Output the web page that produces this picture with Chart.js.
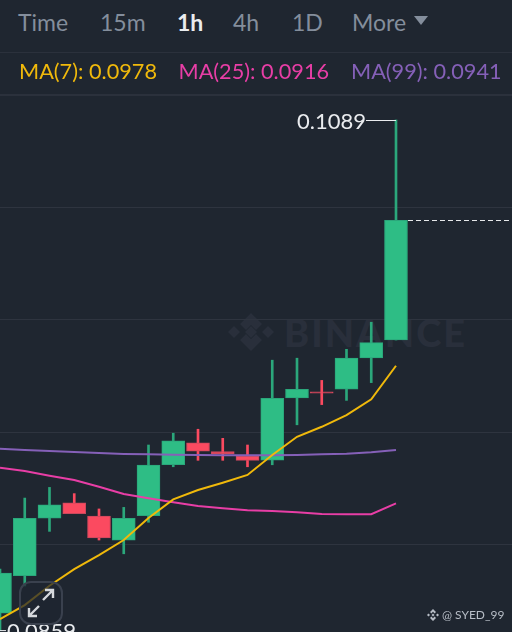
<!DOCTYPE html>
<html>
<head>
<meta charset="utf-8">
<script src="https://cdn.jsdelivr.net/npm/chart.js@4"></script>
<style>
html,body{margin:0;padding:0;background:#1f2630;width:512px;height:632px;overflow:hidden;font-family:Lato,sans-serif}
.abs{position:absolute;white-space:nowrap;line-height:1}
#wm{position:absolute;left:0;top:0;z-index:0}
canvas{position:absolute;left:0;top:0;z-index:1}
#head{position:absolute;left:0;top:0;width:512px;height:52px;background:#1f2630;z-index:2;border-bottom:1.5px solid #2b313c}
#rule{position:absolute;left:0;top:94px;width:512px;height:1.5px;background:#2b313c;z-index:2}
.tab{top:11px;font-size:23px;color:#848e9c;z-index:3}
.ma{top:61px;font-size:21.7px;z-index:3}
#tri{position:absolute;left:414px;top:16px;width:0;height:0;border-left:7px solid transparent;border-right:7px solid transparent;border-top:9px solid #848e9c;z-index:3}
#expand{position:absolute;left:19px;top:581px;z-index:3}
#foot{left:442px;top:609px;font-size:12px;color:#b7bdc6;z-index:3}
#footlogo{position:absolute;left:426px;top:608px;z-index:3}
</style>
</head>
<body>
<svg id="wm" width="512" height="632">
  <g fill="#292f3b">
    <path d="M251 313l11 11-6 6-5-5-5 5-6-6z"/>
    <path d="M234 326l6 6-6 6-6-6z"/>
    <path d="M268 326l6 6-6 6-6-6z"/>
    <path d="M251 326l6 6-6 6-6-6z"/>
    <path d="M251 351l11-11-6-6-5 5-5-5-6 6z"/>
  </g>
  <text x="284" y="347" font-family="Lato" font-weight="900" font-size="38" letter-spacing="2" fill="#292f3b">BINANCE</text>
</svg>
<canvas id="c" width="512" height="632" style="width:512px;height:632px"></canvas>
<div id="head"></div>
<div id="rule"></div>
<div class="abs tab" style="left:18px">Time</div>
<div class="abs tab" style="left:100px">15m</div>
<div class="abs tab" style="left:177px;color:#eaecef;font-weight:700">1h</div>
<div class="abs tab" style="left:233px">4h</div>
<div class="abs tab" style="left:292px">1D</div>
<div class="abs tab" style="left:352px">More</div>
<div id="tri"></div>
<div class="abs ma" style="left:19px;color:#f0b90b">MA(7): 0.0978</div>
<div class="abs ma" style="left:178.500px;color:#e83ea6">MA(25): 0.0916</div>
<div class="abs ma" style="left:351px;color:#8560b8">MA(99): 0.0941</div>
<svg id="expand" width="44" height="44">
  <rect x="1" y="1" width="42" height="42" rx="11" fill="rgba(30,37,48,0.72)" stroke="#3a414e" stroke-width="2"/>
  <g fill="none" stroke="#d5d8dc" stroke-width="2.4">
    <path d="M24 19l10-10M26 9h8v8"/>
    <path d="M20 25l-10 10M18 35h-8v-8"/>
  </g>
</svg>
<svg id="footlogo" width="14" height="14"><g fill="#b7bdc6"><path d="M7 1l3 3-1.400 1.400L7 3.800 5.400 5.400 4 4z"/><path d="M2.500 5.500l1.500 1.500-1.500 1.500L1 7z"/><path d="M11.500 5.500L13 7l-1.500 1.500L10 7z"/><path d="M7 5.500L8.500 7 7 8.500 5.500 7z"/><path d="M7 13l3-3-1.400-1.400L7 10.200 5.400 8.600 4 10z"/></g></svg>
<div class="abs" id="foot">@ SYED_99</div>
<script>
const candleIndex = [0,1,2,3,4,5,6,7,8,9,10,11,12,13,14,15,16];
const opens  = [0.08669,0.08837,0.09097,0.09166,0.09106,0.08997,0.09108,0.09337,0.09436,0.09396,0.09376,0.09358,0.09638,0.09666,0.09677,0.09818,0.09899];
const closes = [0.08849,0.09096,0.09156,0.09117,0.09007,0.09096,0.09336,0.09445,0.09398,0.09386,0.09357,0.09636,0.09677,0.09659,0.09817,0.09887,0.10438];
const highs  = [0.08867,0.09187,0.09235,0.09207,0.09138,0.09145,0.09426,0.09479,0.09497,0.09456,0.09426,0.09808,0.09817,0.09717,0.09857,0.09979,0.1089];
const lows   = [0.0859,0.08791,0.09037,0.09117,0.08998,0.08936,0.09078,0.09328,0.09357,0.09357,0.09328,0.09337,0.09517,0.09608,0.09627,0.09707,0.09899];
const ma7    = [0.08642,0.08705,0.08792,0.08867,0.0893,0.08998,0.09097,0.09181,0.09223,0.09256,0.09291,0.09381,0.09463,0.09508,0.09561,0.09632,0.09783];
const ma25   = [0.09324,0.09309,0.09288,0.09268,0.09238,0.09205,0.09186,0.09168,0.09151,0.09141,0.09132,0.09129,0.09123,0.09115,0.09114,0.09114,0.09163];
const ma99   = [0.09409,0.09404,0.09399,0.09395,0.0939,0.09386,0.09384,0.09382,0.09381,0.0938,0.0938,0.0938,0.09381,0.09384,0.09387,0.09393,0.09404];
const gridPrices = [0.10496,0.0999,0.09481,0.08978];
const gridIndex = [7];
const highLabel = 0.1089;
const lowLabel = 0.0859;
const lastPrice = 0.10438;

const UP='#2ebd85', UPB='#2ba77b', DOWN='#fb4a60', DOWNB='#c9485c';
const isUp = i => closes[i] >= opens[i];
const pts = (a,b) => candleIndex.map((x,i)=>({x, y: b ? [a[i],b[i]] : a[i]}));
const line = (label,data,color) => ({type:'line',label,data:pts(data),borderColor:color,borderWidth:2,pointRadius:0,tension:0,order:0});

const annotate = {
  id:'annotate',
  afterDatasetsDraw(chart){
    const {ctx,scales:{x,y}} = chart;
    ctx.save();
    const ly = Math.round(y.getPixelForValue(lastPrice))+0.5;
    ctx.strokeStyle='#e6e8ea'; ctx.lineWidth=1; ctx.setLineDash([5,3]);
    ctx.beginPath(); ctx.moveTo(x.getPixelForValue(16)+12,ly); ctx.lineTo(512,ly); ctx.stroke();
    ctx.setLineDash([]);
    const hy = Math.round(y.getPixelForValue(highLabel))+0.5, hx = x.getPixelForValue(16);
    ctx.strokeStyle='#eaecef'; ctx.lineWidth=1;
    ctx.beginPath(); ctx.moveTo(hx-30,hy); ctx.lineTo(hx,hy); ctx.stroke();
    ctx.fillStyle='#eaecef'; ctx.font='22px Lato'; ctx.textAlign='right'; ctx.textBaseline='middle';
    ctx.fillText(highLabel.toFixed(4),hx-30,hy+1);
    const wy = y.getPixelForValue(lowLabel);
    ctx.beginPath(); ctx.moveTo(x.getPixelForValue(0),wy); ctx.lineTo(6,wy); ctx.stroke();
    ctx.textAlign='left';
    ctx.fillText(lowLabel.toFixed(4),7,wy+1);
    ctx.restore();
  }
};

new Chart(document.getElementById('c'),{
  data:{datasets:[
    line('MA(7)',ma7,'#f0b90b'),
    line('MA(25)',ma25,'#e83ea6'),
    line('MA(99)',ma99,'#8560b8'),
    {type:'bar',label:'body',data:pts(opens,closes),barThickness:23,grouped:false,order:1,borderSkipped:false,borderWidth:1,
      backgroundColor:c=>isUp(c.dataIndex)?UP:DOWN,borderColor:c=>isUp(c.dataIndex)?UPB:DOWNB},
    {type:'bar',label:'wick',data:pts(lows,highs),barThickness:2,grouped:false,order:2,borderWidth:0,
      backgroundColor:c=>isUp(c.dataIndex)?UPB:DOWN}
  ]},
  options:{
    responsive:false,animation:false,devicePixelRatio:1,
    layout:{padding:0},
    plugins:{legend:{display:false},tooltip:{enabled:false}},
    scales:{
      x:{type:'linear',min:0,max:20.687,offset:false,
        afterBuildTicks:a=>{a.ticks=gridIndex.map(value=>({value}));},
        ticks:{display:false},border:{display:false},grid:{color:'#2e343f',lineWidth:1,drawTicks:false}},
      y:{type:'linear',min:0.085837,max:0.114305,
        afterBuildTicks:a=>{a.ticks=gridPrices.map(value=>({value}));},
        ticks:{display:false},border:{display:false},grid:{color:'#2e343f',lineWidth:1,drawTicks:false}}
    }
  },
  plugins:[annotate]
});
</script>
</body>
</html>
